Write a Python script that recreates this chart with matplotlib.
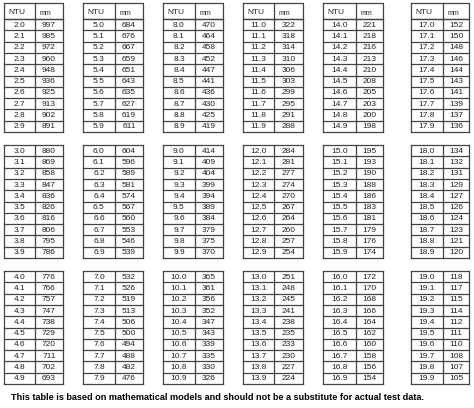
import matplotlib.pyplot as plt

# mm values per column (3 blocks of 10 rows each)
ntu_start = [2.0, 5.0, 8.0, 11.0, 14.0, 17.0]
mm_cols = [
    [997, 985, 972, 960, 948, 936, 925, 913, 902, 891,
     880, 869, 858, 847, 836, 826, 816, 806, 795, 786,
     776, 766, 757, 747, 738, 729, 720, 711, 702, 693],
    [684, 676, 667, 659, 651, 643, 635, 627, 619, 611,
     604, 596, 589, 581, 574, 567, 560, 553, 546, 539,
     532, 526, 519, 513, 506, 500, 494, 488, 482, 476],
    [470, 464, 458, 452, 447, 441, 436, 430, 425, 419,
     414, 409, 404, 399, 394, 389, 384, 379, 375, 370,
     365, 361, 356, 352, 347, 343, 339, 335, 330, 326],
    [322, 318, 314, 310, 306, 303, 299, 295, 291, 288,
     284, 281, 277, 274, 270, 267, 264, 260, 257, 254,
     251, 248, 245, 241, 238, 235, 233, 230, 227, 224],
    [221, 218, 216, 213, 210, 208, 205, 203, 200, 198,
     195, 193, 190, 188, 186, 183, 181, 179, 176, 174,
     172, 170, 168, 166, 164, 162, 160, 158, 156, 154],
    [152, 150, 148, 146, 144, 143, 141, 139, 137, 136,
     134, 132, 131, 129, 127, 126, 124, 123, 121, 120,
     118, 117, 115, 114, 112, 111, 110, 108, 107, 105],
]
headers = ['NTU', 'mm']
note = 'This table is based on mathematical models and should not be a substitute for actual test data.'

# layout in pixels
col_x = [(4, 35, 63), (83, 115, 143), (163, 195, 223),
         (243, 274, 303), (323, 356, 383), (411, 443, 469)]
block_top = [19, 145, 271]
row_h = 11.3
header_top = 3

plt.rcParams['font.family'] = ['Liberation Sans', 'DejaVu Sans']
fig = plt.figure(figsize=(4.74, 4.08), dpi=100)
ax = fig.add_axes([0, 0, 1, 1])
ax.set_xlim(0, 474)
ax.set_ylim(408, 0)
ax.axis('off')
lc = '#444444'
lw = 0.9

for c, (x0, xm, x1) in enumerate(col_x):
    # header
    ax.plot([x0, x1, x1, x0, x0], [header_top, header_top, block_top[0], block_top[0], header_top], color=lc, lw=lw)
    ax.plot([xm, xm], [header_top, block_top[0]], color=lc, lw=lw)
    ax.text(x0 + 4, 13, headers[0], fontsize=6, va='center', ha='left', color='#222222')
    ax.text(xm + 5, 13.5, headers[1], fontsize=5, va='center', ha='left', color='#222222')
    for b, top in enumerate(block_top):
        bottom = top + 10 * row_h
        for r in range(11):
            y = top + r * row_h
            ax.plot([x0, x1], [y, y], color=lc, lw=lw)
        ax.plot([x0, x0], [top, bottom], color=lc, lw=lw)
        ax.plot([xm, xm], [top, bottom], color=lc, lw=lw)
        ax.plot([x1, x1], [top, bottom], color=lc, lw=lw)
        for r in range(10):
            i = b * 10 + r
            y = top + (r + 0.5) * row_h
            ntu = ntu_start[c] + b + r / 10
            ax.text((x0 + xm) / 2, y + 0.5, f'{ntu:.1f}', fontsize=6, ha='center', va='center', color='#222222')
            ax.text((xm + x1) / 2, y + 0.5, str(mm_cols[c][i]), fontsize=6, ha='center', va='center', color='#222222')

ax.text(11, 397, note, fontsize=6.6, fontweight='bold', ha='left', va='center', color='black')

fig.savefig('out.png', dpi=100)
